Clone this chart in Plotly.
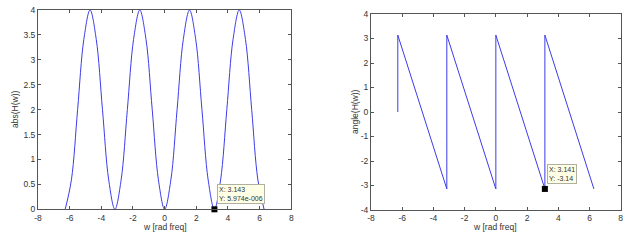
import plotly.graph_objects as go

# Magnitude response samples
w_mag = [-6.283, -5.890, -5.498, -5.105, -4.712, -4.320, -3.927, -3.534,
         -3.142, -2.749, -2.356, -1.963, -1.571, -1.178, -0.785, -0.393,
         0.000, 0.393, 0.785, 1.178, 1.571, 1.963, 2.356, 2.749,
         3.142, 3.534, 3.927, 4.320, 4.712, 5.105, 5.498, 5.890, 6.283]
abs_h = [0, 0.59, 2, 3.41, 4, 3.41, 2, 0.59,
         0, 0.59, 2, 3.41, 4, 3.41, 2, 0.59,
         0, 0.59, 2, 3.41, 4, 3.41, 2, 0.59,
         0, 0.59, 2, 3.41, 4, 3.41, 2, 0.59, 0]

# Phase response vertices
w_ang = [-6.283, -6.283, -3.142, -3.142, 0.000, 0.000, 3.142, 3.142, 6.283]
ang_h = [0, 3.14, -3.14, 3.14, -3.14, 3.14, -3.14, 3.14, -3.14]

# Data tips
tip1_x, tip1_y, tip1_label = 3.143, 0.0, "X: 3.143<br>Y: 5.974e-006"
tip2_x, tip2_y, tip2_label = 3.141, -3.14, "X: 3.141<br>Y: -3.14"

x_ticks = [-8, -6, -4, -2, 0, 2, 4, 6, 8]
y1_ticks = [0, 0.5, 1, 1.5, 2, 2.5, 3, 3.5, 4]
y2_ticks = [-4, -3, -2, -1, 0, 1, 2, 3, 4]

W, H = 629, 240
FONT = "Liberation Sans, Arial, sans-serif"
AX = "#555555"
LINE = "#3c3ce8"

fig = go.Figure()
fig.add_trace(go.Scatter(x=w_mag, y=abs_h, mode="lines", xaxis="x", yaxis="y",
                         line=dict(color=LINE, width=1, shape="spline", smoothing=1),
                         hoverinfo="skip"))
fig.add_trace(go.Scatter(x=w_ang, y=ang_h, mode="lines", xaxis="x2", yaxis="y2",
                         line=dict(color=LINE, width=1), hoverinfo="skip"))
fig.add_trace(go.Scatter(x=[tip1_x], y=[tip1_y], mode="markers", xaxis="x", yaxis="y",
                         marker=dict(symbol="square", size=6, color="black"),
                         cliponaxis=False, hoverinfo="skip"))
fig.add_trace(go.Scatter(x=[tip2_x], y=[tip2_y], mode="markers", xaxis="x2", yaxis="y2",
                         marker=dict(symbol="square", size=6, color="black"),
                         cliponaxis=False, hoverinfo="skip"))

def xaxis(dom, anchor):
    return dict(domain=dom, anchor=anchor, range=[-8, 8], tickvals=x_ticks,
                ticktext=[str(v) for v in x_ticks], ticks="inside", ticklen=3,
                tickcolor=AX, showline=True, linecolor=AX, linewidth=1, mirror="ticks",
                showgrid=False, zeroline=False, automargin=False,
                tickfont=dict(family=FONT, size=8.5, color="#333333"))

def yaxis(dom, anchor, rng, vals):
    return dict(domain=dom, anchor=anchor, range=rng, tickvals=vals,
                ticktext=[("%g" % v) for v in vals], ticks="inside", ticklen=3,
                tickcolor=AX, showline=True, linecolor=AX, linewidth=1, mirror="ticks",
                showgrid=False, zeroline=False, automargin=False,
                tickfont=dict(family=FONT, size=8.5, color="#333333"))

fig.update_layout(
    width=W, height=H, margin=dict(l=0, r=0, t=0, b=0),
    paper_bgcolor="white", plot_bgcolor="white", showlegend=False,
    xaxis=xaxis([38 / W, 291.3 / W], "y"),
    yaxis=yaxis([1 - 209.3 / H, 1 - 10 / H], "x", [0, 4], y1_ticks),
    xaxis2=xaxis([371 / W, 620.7 / W], "y2"),
    yaxis2=yaxis([1 - 210 / H, 1 - 14 / H], "x2", [-4, 4], y2_ticks),
)

ann_font = dict(family=FONT, size=8.5, color="#333333")
tip_font = dict(family=FONT, size=7, color="#333333")
anns = [
    dict(text="w [rad freq]", x=165 / W, y=1 - 227 / H, xref="paper", yref="paper",
         showarrow=False, font=ann_font, xanchor="center", yanchor="middle"),
    dict(text="w [rad freq]", x=495 / W, y=1 - 227 / H, xref="paper", yref="paper",
         showarrow=False, font=ann_font, xanchor="center", yanchor="middle"),
    dict(text="abs(H(w))", x=15 / W, y=1 - 110 / H, xref="paper", yref="paper",
         showarrow=False, font=ann_font, textangle=-90, xanchor="center", yanchor="middle"),
    dict(text="angle(H(w))", x=355 / W, y=1 - 112 / H, xref="paper", yref="paper",
         showarrow=False, font=ann_font, textangle=-90, xanchor="center", yanchor="middle"),
    dict(text=tip1_label, x=tip1_x, y=tip1_y, xref="x", yref="y", showarrow=False,
         xanchor="left", yanchor="bottom", xshift=3, yshift=5, align="left",
         bgcolor="#ffffe6", bordercolor="#b0b0a0", borderwidth=1, borderpad=1,
         font=tip_font),
    dict(text=tip2_label, x=tip2_x, y=tip2_y, xref="x2", yref="y2", showarrow=False,
         xanchor="left", yanchor="bottom", xshift=2, yshift=5, align="left",
         bgcolor="#ffffe6", bordercolor="#b0b0a0", borderwidth=1, borderpad=1,
         font=tip_font),
]
fig.update_layout(annotations=anns)

fig.write_html("out.html")
